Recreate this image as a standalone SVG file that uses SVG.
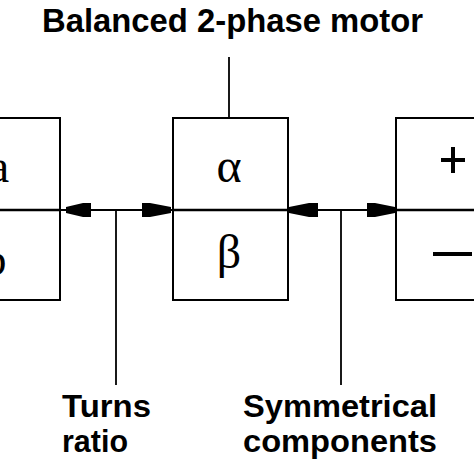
<svg xmlns="http://www.w3.org/2000/svg" width="474" height="474" viewBox="0 0 474 474">
<style>
.box{fill:#fff;stroke:#000;stroke-width:2}
.div{stroke:#000;stroke-width:2.5}
.ln{stroke:#000;stroke-width:1.8;fill:none}
.lbl{font-family:"Liberation Sans",Arial,sans-serif;font-weight:bold;fill:#000}
.gk{font-family:"Liberation Serif","Times New Roman",serif;fill:#000;text-anchor:middle}
.ah{fill:#000}
</style>
<rect width="474" height="474" fill="#fff"/>
<g id="node-left">
<rect class="box" x="-60" y="118" width="120" height="182"/>
<line class="div" x1="-60" y1="210" x2="60" y2="210"/>
<text class="gk" x="-1" y="182" font-size="46">a</text>
<text class="gk" x="-5" y="275" font-size="46">b</text>
</g>
<g id="node-motor">
<rect class="box" x="173" y="118" width="115" height="182"/>
<line class="div" x1="173" y1="210" x2="288" y2="210"/>
<text class="gk" x="229" y="182" font-size="48">α</text>
<text class="gk" x="229" y="268" font-size="48">β</text>
</g>
<g id="node-right">
<rect class="box" x="396" y="118" width="120" height="182"/>
<line class="div" x1="396" y1="210" x2="516" y2="210"/>
<line x1="441" y1="160" x2="465" y2="160" stroke="#000" stroke-width="4"/>
<line x1="453" y1="147" x2="453" y2="173" stroke="#000" stroke-width="4"/>
<line x1="433" y1="254" x2="472" y2="254" stroke="#000" stroke-width="4"/>
</g>
<g id="connectors">
<line class="ln" x1="60" y1="210" x2="173" y2="210"/>
<line class="ln" x1="288" y1="210" x2="396" y2="210"/>
<line class="ln" x1="229" y1="57" x2="229" y2="118"/>
<line class="ln" x1="116" y1="210" x2="116" y2="385"/>
<line class="ln" x1="341" y1="210" x2="341" y2="385"/>
<polygon class="ah" points="66,207 66,213 83,217 91,217 91,203 83,203"/>
<polygon class="ah" points="171,207 171,213 150,217 142,217 142,203 150,203"/>
<polygon class="ah" points="289,207 289,213 309,217 318,217 318,203 309,203"/>
<polygon class="ah" points="395,207 395,213 375,217 367,217 367,203 375,203"/>
</g>
<g id="labels">
<text class="lbl" x="42" y="32" font-size="34" textLength="381" lengthAdjust="spacingAndGlyphs">Balanced 2-phase motor</text>
<text class="lbl" x="62" y="417" font-size="31" textLength="89" lengthAdjust="spacingAndGlyphs">Turns</text>
<text class="lbl" x="62" y="452" font-size="31" textLength="66" lengthAdjust="spacingAndGlyphs">ratio</text>
<text class="lbl" x="243" y="417" font-size="31" textLength="194" lengthAdjust="spacingAndGlyphs">Symmetrical</text>
<text class="lbl" x="243" y="452" font-size="31" textLength="194" lengthAdjust="spacingAndGlyphs">components</text>
</g>
</svg>
